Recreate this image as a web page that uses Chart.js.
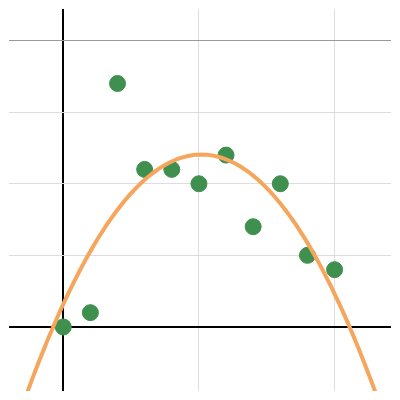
<!DOCTYPE html><html><head><script src="https://cdn.jsdelivr.net/npm/chart.js@4"></script>
<style>html,body{margin:0;padding:0;background:#fff}#w{width:400px;height:400px}</style></head><body><div id="w"><canvas id="c"></canvas></div><script>
const xs=[0,1,2,3,4,5,6,7,8,9,10];
const ys=[0,1,17,11,11,10,12,7,10,5,4];
const xTicks=[0,5,10], yTicks=[0,5,10,15,20];
// least squares quadratic fit from data
function fit(){let S=[0,0,0,0,0],T=[0,0,0];xs.forEach((x,i)=>{for(let k=0;k<5;k++)S[k]+=x**k;for(let k=0;k<3;k++)T[k]+=ys[i]*x**k;});
const M=[[S[0],S[1],S[2],T[0]],[S[1],S[2],S[3],T[1]],[S[2],S[3],S[4],T[2]]];
for(let i=0;i<3;i++){for(let j=i+1;j<3;j++){const f=M[j][i]/M[i][i];for(let k=i;k<4;k++)M[j][k]-=f*M[i][k];}}
const r=[0,0,0];for(let i=2;i>=0;i--){let s=M[i][3];for(let k=i+1;k<3;k++)s-=M[i][k]*r[k];r[i]=s/M[i][i];}return r;}
const c=fit();const curve=[];for(let x=-2;x<=12.1;x+=0.1)curve.push({x,y:c[0]+c[1]*x+c[2]*x*x});
new Chart(document.getElementById('c'),{data:{datasets:[
{type:'line',data:curve,borderColor:'#f6a55c',borderWidth:4,pointRadius:0,tension:0},
{type:'scatter',data:xs.map((x,i)=>({x,y:ys[i]})),backgroundColor:'#3f8f4f',borderColor:'#3f8f4f',pointRadius:8}]},
options:{animation:false,responsive:true,maintainAspectRatio:false,layout:{padding:0},plugins:{legend:{display:false},tooltip:{enabled:false}},
scales:{x:{type:'linear',min:-2,max:12.08,afterBuildTicks:s=>{s.ticks=xTicks.map(v=>({value:v}))},ticks:{display:false},border:{display:false},grid:{drawTicks:false,color:x=>x.tick.value===0?'#000':'#ddd',lineWidth:x=>x.tick.value===0?2:1}},
y:{type:'linear',min:-4.47,max:22.2,afterBuildTicks:s=>{s.ticks=yTicks.map(v=>({value:v}))},ticks:{display:false},border:{display:false},grid:{drawTicks:false,color:x=>x.tick.value===0?'#000':(x.tick.value===20?'#999':'#ddd'),lineWidth:x=>x.tick.value===0?2:1}}}}});
</script></body></html>
